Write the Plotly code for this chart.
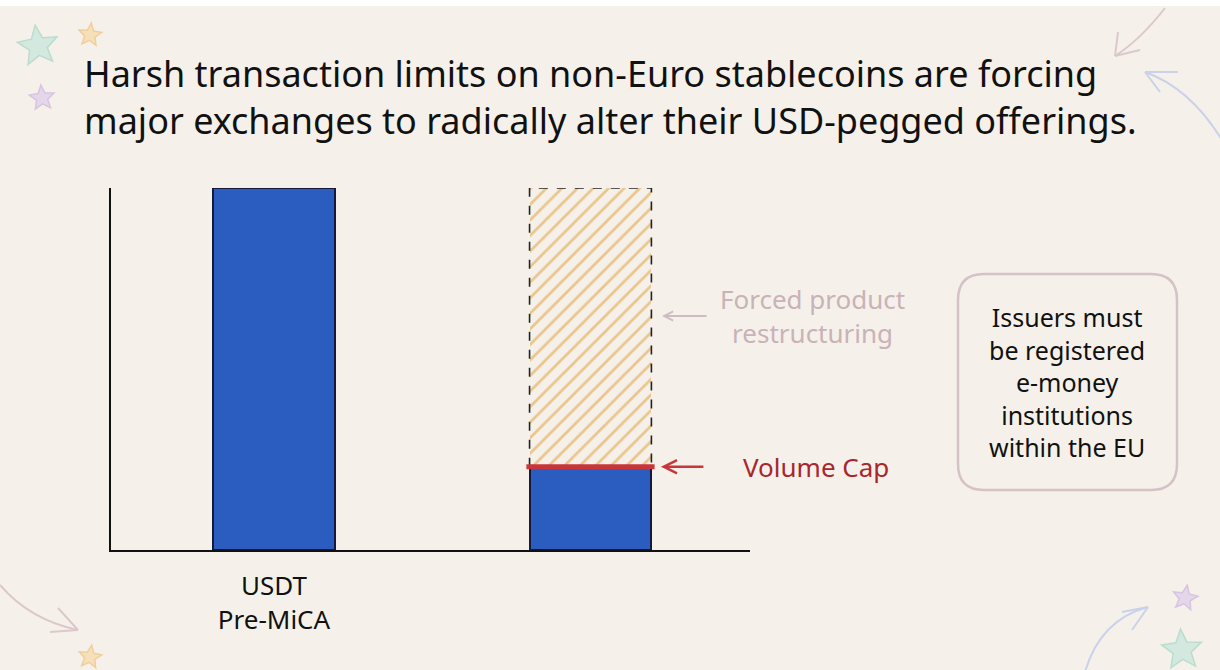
import math
import plotly.graph_objects as go

# data (share of USD-stablecoin offering, pre-MiCA = 100)
categories = ["USDT Pre-MiCA", "Post-MiCA"]
tick_labels = ["USDT<br>Pre-MiCA", ""]
allowed_volume = [100, 23]       # solid blue part
restructured = [0, 77]           # hatched part that has to go

title_text = ("Harsh transaction limits on non-Euro stablecoins are forcing<br>"
              "major exchanges to radically alter their USD-pegged offerings.")
note_text = "Issuers must<br>be registered<br>e-money<br>institutions<br>within the EU"

BG = "#f5f1ea"
BLUE = "#2b5cc0"
FONT = "Noto Sans"
BAR_W = 0.385

# plot box in pixels, used for the decorations outside the axes
L, R, T, B = 111, 750, 188, 550
W, H = 1220, 670


def px(x):
    return (x - L) / (R - L)


def py(y):
    return (B - y) / (B - T)


xs = list(range(len(categories)))

fig = go.Figure()
fig.add_trace(go.Bar(
    x=xs, y=allowed_volume, width=BAR_W, name="allowed",
    marker=dict(color=BLUE, line=dict(color="#15193a", width=2)),
    hoverinfo="skip",
))
fig.add_trace(go.Bar(
    x=xs, y=restructured, width=BAR_W, name="restructured",
    marker=dict(color="rgba(0,0,0,0)", line=dict(width=0),
                pattern=dict(shape="/", fgcolor="#e09a30", bgcolor="rgba(0,0,0,0)",
                             size=11, solidity=0.25)),
    hoverinfo="skip",
))

# dashed outline around the hatched part + red volume cap
i = 1
cap = allowed_volume[i]
top = allowed_volume[i] + restructured[i]
fig.add_trace(go.Scatter(
    x=[xs[i] - BAR_W / 2, xs[i] - BAR_W / 2, xs[i] + BAR_W / 2, xs[i] + BAR_W / 2],
    y=[cap, top, top, cap], mode="lines",
    line=dict(color="#222222", width=1.6, dash="dash"), hoverinfo="skip",
))
fig.add_trace(go.Scatter(
    x=[xs[i] - BAR_W / 2 - 0.01, xs[i] + BAR_W / 2 + 0.01], y=[cap, cap], mode="lines",
    line=dict(color="#c8363c", width=5), hoverinfo="skip",
))

annotations = [
    dict(text=title_text, xref="paper", yref="paper", x=px(82), y=py(97),
         xanchor="left", yanchor="middle", align="left", showarrow=False,
         font=dict(family=FONT, size=36, color="#111111")),
    # volume cap arrow + label
    dict(text="", xref="x", yref="y", x=xs[i] + BAR_W / 2 + 0.03, y=cap,
         ax=44, ay=0, showarrow=True, arrowhead=5, arrowsize=1, arrowwidth=2.6,
         arrowcolor="#c8363c"),
    dict(text="Volume Cap", xref="paper", yref="y", x=px(741), y=cap,
         xanchor="left", yanchor="middle", showarrow=False,
         font=dict(family=FONT, size=26, color="#a8272d")),
    # forced restructuring arrow + label
    dict(text="", xref="paper", yref="paper", x=px(662), y=py(316),
         ax=46, ay=0, showarrow=True, arrowhead=5, arrowsize=1, arrowwidth=1.8,
         arrowcolor="#cdbcc0"),
    dict(text="Forced product<br>restructuring", xref="paper", yref="paper",
         x=px(812), y=py(316), xanchor="center", yanchor="middle", showarrow=False,
         font=dict(family=FONT, size=26, color="#c9b2b8")),
    # side note
    dict(text=note_text, xref="paper", yref="paper", x=px(1067), y=py(382),
         xanchor="center", yanchor="middle", showarrow=False,
         font=dict(family=FONT, size=25, color="#111111")),
]


def path(points, q=None):
    # points in pixels -> svg path in paper coords, optional quadratic control point
    (x0, y0), (x1, y1) = points
    if q:
        return "M {} {} Q {} {} {} {}".format(px(x0), py(y0), px(q[0]), py(q[1]), px(x1), py(y1))
    return "M {} {} L {} {}".format(px(x0), py(y0), px(x1), py(y1))


def arrow_shapes(start, ctrl, end, head1, head2, color):
    out = [dict(type="path", xref="paper", yref="paper", path=path([start, end], ctrl),
                line=dict(color=color, width=2))]
    for h in (head1, head2):
        out.append(dict(type="path", xref="paper", yref="paper", path=path([end, h]),
                        line=dict(color=color, width=2)))
    return out


def star_shape(cx, cy, ro, fill, edge, tilt=0):
    pts = []
    for k in range(10):
        rad = ro if k % 2 == 0 else ro * 0.45
        a = math.radians(-90 + tilt + k * 36)
        pts.append((cx + rad * math.cos(a), cy + rad * math.sin(a)))
    d = "M " + " L ".join("{} {}".format(px(a), py(b)) for a, b in pts) + " Z"
    return dict(type="path", xref="paper", yref="paper", path=d, fillcolor=fill,
                line=dict(color=edge, width=1.5))


shapes = [
    dict(type="rect", xref="paper", yref="paper", x0=px(0), x1=px(W), y0=py(0), y1=py(6),
         fillcolor="white", line=dict(width=0), layer="below"),
]
# rounded note box
bx0, bx1, by0, by1, r = 958, 1177, 274, 490, 26
shapes.append(dict(
    type="path", xref="paper", yref="paper",
    path=("M {} {} L {} {} Q {} {} {} {} L {} {} Q {} {} {} {} L {} {} Q {} {} {} {} "
          "L {} {} Q {} {} {} {} Z").format(
        px(bx0 + r), py(by0), px(bx1 - r), py(by0), px(bx1), py(by0), px(bx1), py(by0 + r),
        px(bx1), py(by1 - r), px(bx1), py(by1), px(bx1 - r), py(by1),
        px(bx0 + r), py(by1), px(bx0), py(by1), px(bx0), py(by1 - r),
        px(bx0), py(by0 + r), px(bx0), py(by0), px(bx0 + r), py(by0)),
    line=dict(color="#d6c2c6", width=2.5)))

shapes += arrow_shapes((1165, 8), (1140, 40), (1115, 56), (1118, 32), (1140, 50), "#dcc8cc")
shapes += arrow_shapes((1222, 140), (1190, 88), (1145, 72), (1178, 72), (1160, 92), "#c9d2ea")
shapes += arrow_shapes((0, 585), (30, 620), (78, 630), (58, 608), (50, 632), "#dcc8cc")
shapes += arrow_shapes((1085, 672), (1100, 620), (1148, 607), (1122, 612), (1132, 630), "#c9d2ea")

# decorative stars
shapes += [
    star_shape(38, 46, 21, "#d3e8df", "#bcdccf", -8),
    star_shape(90, 35, 12, "#f7dfb9", "#f0cf9c", 6),
    star_shape(42, 98, 13, "#e5d6ea", "#d8c4e0", -5),
    star_shape(90, 657, 12, "#f7dfb9", "#f0cf9c", 8),
    star_shape(1185, 598, 13, "#e5d6ea", "#d8c4e0", 10),
    star_shape(1182, 650, 21, "#d3e8df", "#bcdccf", -4),
]

fig.update_layout(
    width=W, height=H,
    margin=dict(l=L, r=W - R, t=T, b=H - B),
    paper_bgcolor=BG, plot_bgcolor=BG,
    barmode="stack", showlegend=False,
    font=dict(family=FONT, color="#111111"),
    annotations=annotations, shapes=shapes,
    xaxis=dict(range=[-0.515, 1.504], tickvals=xs, ticktext=tick_labels,
               showgrid=False, zeroline=False, showline=True, linecolor="#111111",
               linewidth=2, ticks="", ticklabelstandoff=12,
               tickfont=dict(family=FONT, size=26, color="#111111")),
    yaxis=dict(range=[0, 100], showgrid=False, zeroline=False, showline=True,
               linecolor="#111111", linewidth=2, showticklabels=False, ticks=""),
)

fig.write_html("out.html", config={"displayModeBar": False},
               post_script="document.body.style.margin='0px';")
